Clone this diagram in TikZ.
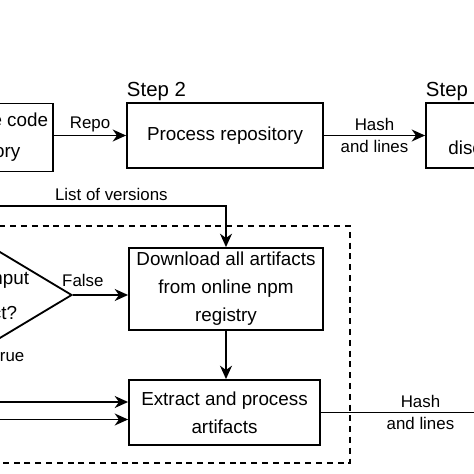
\documentclass[tikz,border=0pt]{standalone}
\usepackage{fontspec}
\setmainfont{Liberation Sans}
\usetikzlibrary{positioning,arrows.meta,shapes.geometric}
\newcommand{\boxfont}{\fontsize{13.4pt}{20pt}\selectfont}
\newcommand{\lblfont}{\fontsize{12pt}{15pt}\selectfont}
\newcommand{\stepfont}{\fontsize{14.5pt}{17pt}\selectfont}

\begin{document}
\begin{tikzpicture}[
  >={Stealth[length=9.5pt, width=8.5pt, inset=3pt]},
  line width=1.3pt,
  box/.style={draw, align=center, font=\boxfont, inner sep=2pt},
  decision/.style={draw, diamond, aspect=1.66, align=center, font=\boxfont, inner sep=-6pt},
  lbl/.style={font=\lblfont, align=center},
  steplbl/.style={font=\stepfont, inner sep=0pt, anchor=base west},
  groupframe/.style={draw, dash pattern=on 0.15cm off 0.12cm}
]
\useasboundingbox (0,0) rectangle (11.85,11.85);
\clip (0,0) rectangle (11.85,11.85);

% --- Top row: steps ---
\node[box, minimum width=3.7cm, minimum height=1.7cm] (src) at (-0.525,8.4125)
  {Get source code\\[2pt]repository};
\node[box, minimum width=4.9cm, minimum height=1.625cm] (proc) at (5.625,8.4625)
  {Process repository};
\node[box, minimum width=4.0cm, minimum height=1.625cm] (disc) at (12.65,8.4625)
  {Find\\discrepancies};

\node[steplbl] (step2) at ([yshift=0.14cm]proc.north west) {Step 2};
\node[steplbl] (step3) at ([yshift=0.14cm]disc.north west) {Step 3};

\draw[->] (src.east |- proc.west) -- node[midway, above, lbl, inner sep=2pt] {Repo} (proc.west);
\draw[->] (proc.east) -- node[midway, lbl] {Hash\\and lines} (disc.west);

% --- Bottom: artifacts from npm ---
\draw[groupframe] (-3,0.275) rectangle (8.75,6.2);

\node[decision, minimum width=4.45cm, minimum height=2.675cm] (dec) at (-0.425,4.475)
  {Is the input\\[5pt]correct?};
\node[box, minimum width=4.85cm, minimum height=2.05cm] (dl) at (5.65,4.625)
  {Download all artifacts\\from online npm\\registry};
\node[box, minimum width=4.775cm, minimum height=1.625cm] (ext) at (5.6125,1.5375)
  {Extract and process\\artifacts};

\coordinate (vin) at (-0.5,6.7);
\coordinate (lin) at (-0.5,1.3625);
\coordinate (out) at (13.0,1.5375);

\draw[->] (vin) -| node[pos=0.267, above, lbl] {List of versions} (dl.north);
\draw[->] (dec.east) -- node[pos=0.18, above=2pt, lbl] {False} (dec.east -| dl.west);
\draw[->] (dec.south) |- node[pos=0.06, right=3.5pt, lbl, inner sep=1pt] {True} ([yshift=0.2625cm]ext.west);
\draw[->] (lin) -- (lin -| ext.west);
\draw[->] (dl.south) -- (dl.south |- ext.north);
\draw[->] (ext.east) -- node[midway, lbl] {Hash\\and lines} (out);

\end{tikzpicture}
\end{document}
